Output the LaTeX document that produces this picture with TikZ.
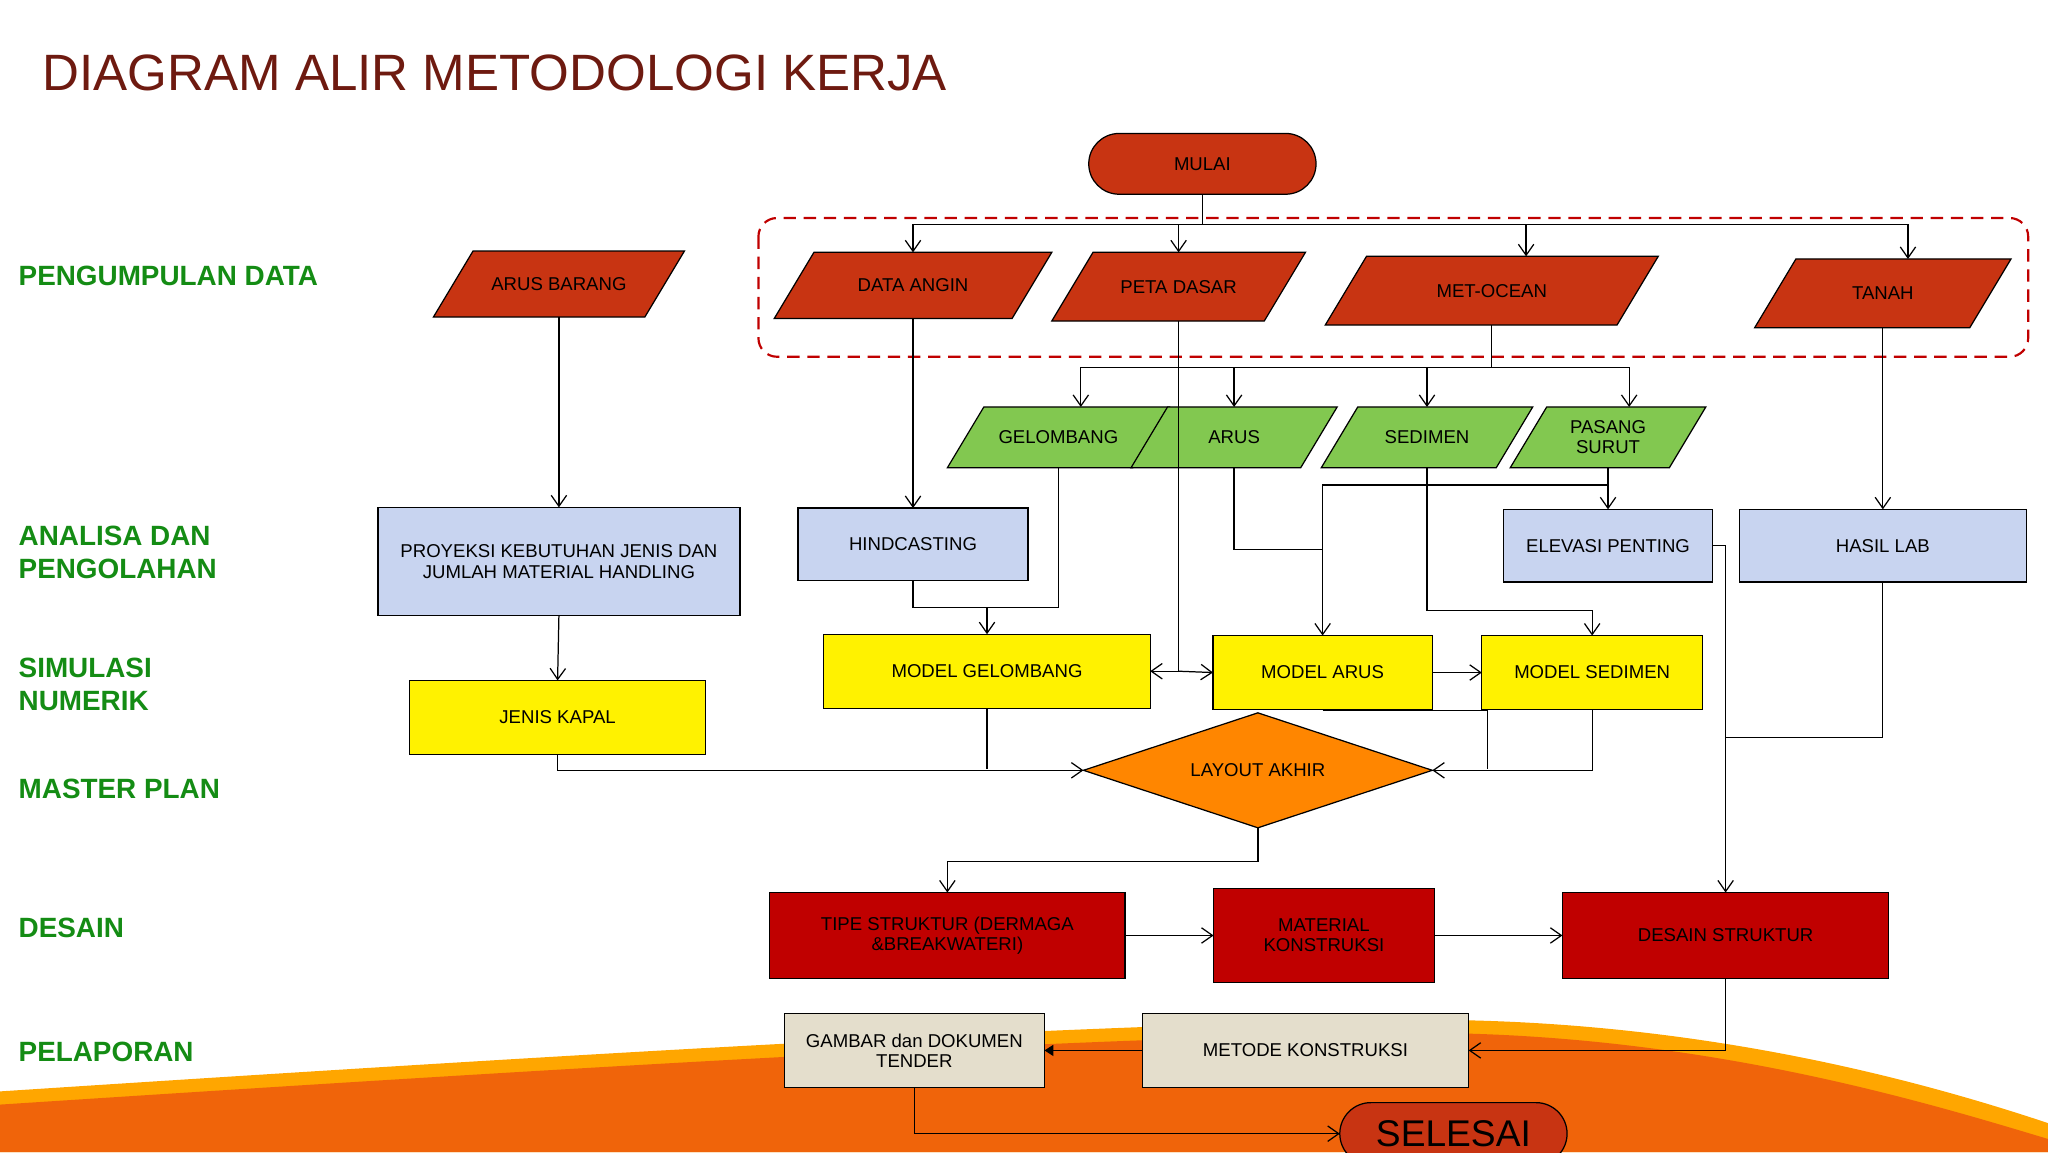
\documentclass[tikz,border=0pt]{standalone}
\usepackage{fontspec}
\setmainfont{Liberation Sans}
\usetikzlibrary{positioning, shapes.geometric, shapes.misc, arrows.meta}

\definecolor{redbox}{RGB}{200,52,18}
\definecolor{darkred}{RGB}{192,0,0}
\definecolor{greenbox}{RGB}{130,200,80}
\definecolor{bluebox}{RGB}{200,212,240}
\definecolor{beige}{RGB}{228,222,204}
\definecolor{titlered}{RGB}{110,26,16}
\definecolor{labelgreen}{RGB}{20,140,20}
\definecolor{swoosh}{RGB}{240,100,10}

% slanted input box: name, x, y, half width, half height, fill, text
\newcommand{\slantbox}[7]{%
    \filldraw[fill=#6, line width=0.8pt] (#2-#4,#3+#5) -- (#2+#4-#5*1.2,#3+#5)
        -- (#2+#4,#3-#5) -- (#2-#4+#5*1.2,#3-#5) -- cycle;
    \node[inner sep=0pt, outer sep=0pt, align=center, minimum height={2*#5*0.03cm}] (#1) at (#2,#3) {#7};
}

\begin{document}
\begin{tikzpicture}[x=0.03cm, y=-0.03cm, font=\fontsize{12}{13}\selectfont]
    \tikzstyle{base} = [draw, line width=0.8pt, inner sep=0pt, outer sep=0pt, align=center];
    \tikzstyle{analysis} = [base, rectangle, fill=bluebox];
    \tikzstyle{model} = [base, rectangle, fill=yellow, minimum height=1.68cm];
    \tikzstyle{design} = [base, rectangle, fill=darkred];
    \tikzstyle{report} = [base, rectangle, fill=beige, minimum height=1.68cm];
    \tikzstyle{terminal} = [base, rounded rectangle, fill=redbox];
    \tikzstyle{phase} = [anchor=west, text=labelgreen, font=\fontsize{18}{21}\selectfont\bfseries, align=left];
    \tikzstyle{arr} = [line width=0.8pt, -{Straight Barb[length=2.5mm, width=3.5mm]}];
    \tikzstyle{ln} = [line width=0.8pt];

    \useasboundingbox (0,0) rectangle (1550,872);

    % background swoosh
    \fill[orange!70!yellow] (0,872) -- (0,826) .. controls (400,800) and (850,772) .. (1100,772)
        .. controls (1300,775) and (1460,820) .. (1550,850) -- (1550,872) -- cycle;
    \fill[swoosh] (0,872) -- (0,836) .. controls (400,810) and (850,782) .. (1100,782)
        .. controls (1300,786) and (1460,835) .. (1550,862) -- (1550,872) -- cycle;

    % title and phases
    \node[anchor=west, text=titlered, font=\fontsize{33}{40}\selectfont] (title) at (28,55) {DIAGRAM ALIR METODOLOGI KERJA};
    \node[phase] (p1) at (10,209) {PENGUMPULAN DATA};
    \node[phase] (p2) at (10,418) {ANALISA DAN\\PENGOLAHAN};
    \node[phase] (p3) at (10,518) {SIMULASI\\NUMERIK};
    \node[phase] (p4) at (10,597) {MASTER PLAN};
    \node[phase] (p5) at (10,702) {DESAIN};
    \node[phase] (p6) at (10,796) {PELAPORAN};

    % data group frame
    \draw[darkred, line width=1.4pt, dashed, dash pattern=on 8pt off 5pt, rounded corners=12pt] (574,165) rectangle (1535,270);

    \node[terminal, minimum width=5.16cm, minimum height=1.38cm] (mulai) at (910,124) {MULAI};

    \slantbox{arusbarang}{423}{215}{95}{25}{redbox}{ARUS BARANG}
    \slantbox{dataangin}{691}{216}{105}{25}{redbox}{DATA ANGIN}
    \slantbox{petadasar}{892}{217}{96}{26}{redbox}{PETA DASAR}
    \slantbox{metocean}{1129}{220}{126}{26}{redbox}{MET-OCEAN}
    \slantbox{tanah}{1425}{222}{97}{26}{redbox}{TANAH}

    \slantbox{gelombang}{801}{331}{84}{23}{greenbox}{GELOMBANG}
    \slantbox{arus}{934}{331}{78}{23}{greenbox}{ARUS}
    \slantbox{sedimen}{1080}{331}{80}{23}{greenbox}{SEDIMEN}
    \slantbox{pasut}{1217}{331}{74}{23}{greenbox}{PASANG\\SURUT}

    \node[analysis, minimum width=8.22cm, minimum height=2.46cm] (proyeksi) at (423,425) {PROYEKSI KEBUTUHAN JENIS DAN\\JUMLAH MATERIAL HANDLING};
    \node[analysis, minimum width=5.22cm, minimum height=1.65cm] (hindcast) at (691,412) {HINDCASTING};
    \node[analysis, minimum width=4.74cm, minimum height=1.65cm] (elevasi) at (1217,413) {ELEVASI PENTING};
    \node[analysis, minimum width=6.51cm, minimum height=1.65cm] (hasillab) at (1425,413) {HASIL LAB};

    \node[model, minimum width=7.41cm] (mgelombang) at (747,508) {MODEL GELOMBANG};
    \node[model, minimum width=4.98cm] (marus) at (1001,509) {MODEL ARUS};
    \node[model, minimum width=5.01cm] (msedimen) at (1205,509) {MODEL SEDIMEN};
    \node[model, minimum width=6.72cm] (jeniskapal) at (422,543) {JENIS KAPAL};

    \node[base, diamond, fill=orange!95!yellow, aspect=3, minimum width=7.92cm, minimum height=2.61cm] (layout) at (952,583) {LAYOUT AKHIR};

    \node[design, minimum width=8.07cm, minimum height=1.95cm] (tipe) at (717,708) {TIPE STRUKTUR (DERMAGA\\\&BREAKWATERI)};
    \node[design, minimum width=5.01cm, minimum height=2.13cm] (material) at (1002,708) {MATERIAL\\KONSTRUKSI};
    \node[design, minimum width=7.41cm, minimum height=1.95cm] (desain) at (1306,708) {DESAIN STRUKTUR};

    \node[report, minimum width=5.91cm] (gambar) at (692,795) {GAMBAR dan DOKUMEN\\TENDER};
    \node[report, minimum width=7.41cm] (metode) at (988,795) {METODE KONSTRUKSI};
    \node[terminal, minimum width=5.16cm, minimum height=1.41cm, font=\fontsize{24}{26}\selectfont] (selesai) at (1100,858) {SELESAI};

    % start to data
    \coordinate (top) at (910,170);
    \draw[ln] (mulai.south) -- (top);
    \draw[arr] (top) -| (dataangin.north);
    \draw[arr] (top) -| (petadasar.north);
    \draw[arr] (top) -| (1155,194);
    \draw[arr] (top) -| (1444,196);

    % data to analysis
    \draw[arr] (arusbarang.south) -- (proyeksi.north);
    \draw[arr] (dataangin.south) -- (hindcast.north);
    \draw[arr] (tanah.south) -- (hasillab.north);
    \draw[arr] (proyeksi.south) -- (jeniskapal.north);

    % met-ocean branches
    \coordinate (mo) at (1129,278);
    \draw[ln] (metocean.south) -- (mo);
    \draw[arr] (mo) -| (818,308);
    \draw[arr] (mo) -| (arus.north);
    \draw[arr] (mo) -| (sedimen.north);
    \draw[arr] (mo) -| (1233,308);

    % peta dasar to models
    \coordinate (pd) at (892,508);
    \draw[ln] (petadasar.south) -- (pd);
    \draw[arr] (pd) -- (mgelombang.east);
    \draw[arr] (pd) -- (marus.west);

    % parameters to models
    \draw[arr] (hindcast.south) |- (747,460) -- (mgelombang.north);
    \draw[ln] (gelombang.south) |- (747,460);
    \draw[arr] (arus.south) |- (1001,416) -- (marus.north);
    \draw[ln] (pasut.south) -- (1217,367);
    \draw[arr] (1217,367) -- (elevasi.north);
    \draw[ln] (1217,367) -- (1001,367) -- (1001,416);
    \draw[arr] (sedimen.south) |- (1205,462) -- (msedimen.north);
    \draw[arr] (marus.east) -- (msedimen.west);

    % to layout
    \draw[arr] (jeniskapal.south) |- (layout.west);
    \draw[ln] (mgelombang.south) -- (747,582);
    \draw[arr] (msedimen.south) |- (layout.east);
    \draw[ln] (1001,538) -- (1126,538) -- (1126,582);

    % layout to design
    \draw[arr] (layout.south) |- (717,652) -- (tipe.north);
    \draw[arr] (tipe.east) -- (material.west);
    \draw[arr] (material.east) -- (desain.west);
    \draw[ln] (elevasi.east) -- (1306,413);
    \draw[arr] (1306,413) -- (desain.north);
    \draw[ln] (hasillab.south) |- (1306,558);

    % reporting
    \draw[arr] (desain.south) |- (metode.east);
    \draw[line width=0.8pt, -{Triangle[length=2mm, width=2.5mm]}] (metode.west) -- (gambar.east);
    \draw[arr] (gambar.south) |- (selesai.west);
\end{tikzpicture}
\end{document}
